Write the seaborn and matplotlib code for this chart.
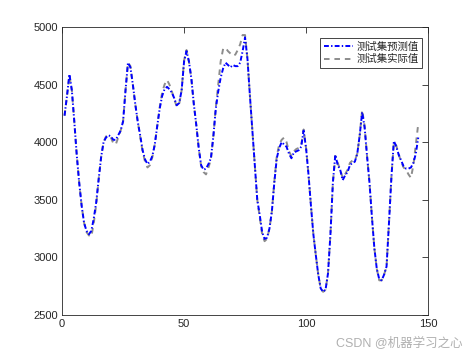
import numpy as np
import pandas as pd
import matplotlib
matplotlib.use('Agg')
import matplotlib.pyplot as plt
import seaborn as sns

# test-set predictions and actual values, sample index 1..146
pred = [4230, 4400, 4590, 4450, 4180, 3890, 3650, 3450, 3300, 3230,
        3200, 3230, 3340, 3480, 3680, 3870, 4000, 4040, 4060, 4050,
        4020, 4020, 4060, 4100, 4180, 4450, 4690, 4650, 4500, 4330,
        4180, 4060, 3930, 3850, 3810, 3830, 3880, 3980, 4140, 4290,
        4400, 4460, 4480, 4460, 4430, 4380, 4320, 4340, 4450, 4700,
        4790, 4700, 4550, 4330, 4150, 3950, 3800, 3760, 3770, 3810,
        3860, 4050, 4290, 4440, 4560, 4640, 4690, 4670, 4650, 4670,
        4660, 4660, 4690, 4790, 4910, 4720, 4400, 4100, 3800, 3500,
        3370, 3220, 3160, 3170, 3250, 3400, 3650, 3860, 3950, 4000,
        3980, 3960, 3900, 3860, 3910, 3920, 3930, 3960, 4100, 3950,
        3720, 3450, 3200, 3020, 2850, 2730, 2700, 2720, 2860, 3200,
        3650, 3890, 3800, 3760, 3670, 3710, 3740, 3800, 3820, 3830,
        3900, 4060, 4260, 4130, 3880, 3650, 3350, 3080, 2900, 2810,
        2800, 2850, 2920, 3300, 3700, 4010, 3960, 3890, 3840, 3790,
        3770, 3770, 3780, 3820, 3900, 4040]

actual = [4230, 4400, 4580, 4450, 4180, 3890, 3650, 3450, 3300, 3220,
          3190, 3180, 3300, 3460, 3680, 3870, 4000, 4050, 4060, 4040,
          3990, 3980, 4040, 4100, 4180, 4450, 4690, 4660, 4500, 4330,
          4180, 4050, 3920, 3830, 3780, 3800, 3870, 3980, 4140, 4300,
          4430, 4500, 4540, 4500, 4440, 4370, 4310, 4330, 4450, 4710,
          4800, 4700, 4550, 4330, 4150, 3950, 3790, 3740, 3720, 3780,
          3850, 4050, 4300, 4500, 4700, 4810, 4820, 4790, 4770, 4750,
          4760, 4800, 4850, 4930, 4930, 4720, 4400, 4100, 3800, 3500,
          3350, 3200, 3140, 3160, 3250, 3400, 3660, 3880, 3980, 4020,
          4040, 4000, 3920, 3880, 3920, 3940, 3950, 3970, 4110, 3950,
          3720, 3450, 3200, 3020, 2850, 2730, 2700, 2720, 2860, 3200,
          3650, 3880, 3820, 3760, 3690, 3720, 3760, 3820, 3840, 3840,
          3900, 4060, 4280, 4140, 3880, 3650, 3350, 3080, 2900, 2800,
          2800, 2850, 2920, 3300, 3700, 4000, 3970, 3890, 3830, 3780,
          3760, 3720, 3690, 3800, 3980, 4160]

idx = np.arange(1, len(pred) + 1)
df = pd.DataFrame({'idx': idx, 'pred': pred, 'actual': actual})

sns.set_style('white')
plt.rcParams['font.family'] = ['Liberation Sans', 'Noto Sans CJK SC', 'DejaVu Sans']
plt.rcParams['lines.scale_dashes'] = False

fig = plt.figure(figsize=(4.74, 3.55), dpi=100)
ax = fig.add_axes([0.131, 0.113, 0.772, 0.811])

sns.lineplot(data=df, x='idx', y='pred', color='#0000ff',
             linestyle=(0, (3.5, 1.6, 1.0, 1.6)), linewidth=1.4,
             label='测试集预测值', ax=ax, zorder=3)
sns.lineplot(data=df, x='idx', y='actual', color='#8c8c8c',
             linestyle=(0, (4.0, 3.5)), linewidth=1.4,
             label='测试集实际值', ax=ax, zorder=2)

ax.set_xlim(0, 150)
ax.set_ylim(2500, 5000)
ax.set_xticks([0, 50, 100, 150])
ax.set_yticks([2500, 3000, 3500, 4000, 4500, 5000])
ax.set_xlabel('')
ax.set_ylabel('')
for s in ax.spines.values():
    s.set_color('#262626')
    s.set_linewidth(0.6)
ax.tick_params(direction='in', top=True, right=True, length=4, width=0.6,
               color='#262626', labelsize=8, labelcolor='#262626', pad=3)

leg = ax.legend(loc='upper right', bbox_to_anchor=(0.984, 0.962),
                frameon=True, fancybox=False, edgecolor='#262626',
                framealpha=1, handlelength=2.8, borderpad=0.35,
                labelspacing=0.25, handletextpad=0.3, borderaxespad=0,
                prop={'family': ['Noto Sans CJK SC'], 'size': 7.5})
leg.get_frame().set_linewidth(0.6)

fig.text(0.975, 0.018, 'CSDN @机器学习之心', ha='right', va='bottom',
         fontsize=9, color='#b0b0b0',
         family=['Liberation Sans', 'Noto Sans CJK SC'])

fig.savefig('out.png', dpi=100)
